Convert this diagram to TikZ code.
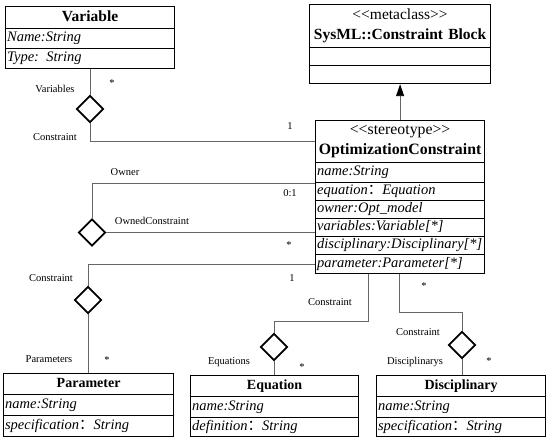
\documentclass[tikz,border=0pt]{standalone}
\usepackage{fontspec}
\setmainfont{Liberation Serif}
\newfontfamily\cjk{Noto Sans CJK SC}
\usetikzlibrary{shapes.geometric,arrows.meta}
\newcommand\fc{{\upshape\cjk ：}}
\newcommand\llt{<\kern0pt<}
\newcommand\ggt{>\kern0pt>}
\begin{document}
\begin{tikzpicture}[x=1pt,y=-1pt,
  box/.style={draw=black, line width=1.2pt, anchor=north west, inner xsep=1.5pt, inner ysep=0pt},
  ttl/.style={box, font=\fontsize{15.5}{20}\selectfont\bfseries, align=center},
  bttl/.style={box, font=\fontsize{14}{16}\selectfont\bfseries, align=center, text height=10pt, text depth=3pt},
  att/.style={box, font=\fontsize{14.5}{17}\selectfont\itshape, align=left, text height=10pt, text depth=3.5pt},
  conn/.style={draw=black!60, line width=0.9pt},
  agg/.style={diamond, draw=black, line width=1.8pt, fill=white, inner sep=0pt, minimum width=27pt, minimum height=27pt},
  lbl/.style={font=\fontsize{10.5}{12}\selectfont, inner sep=0pt},
]
\fill[white] (0,0) rectangle (550,443);
\useasboundingbox (0,0) rectangle (550,443);

% Variable
\node[ttl, text width=166pt, minimum height=22pt, text height=11pt, text depth=3pt] (vt) at (5,6) {Variable};
\node[att, text width=166pt, minimum height=20pt] (v1) at (5,28) {Name:String};
\node[att, text width=166pt, minimum height=20pt] (v2) at (5,48) {Type: String};

% SysML Constraint Block
\node[ttl, text width=178pt, minimum height=43pt] (st) at (309,4) {{\mdseries\llt metaclass\ggt}\\SysML::Constraint Block};
\node[att, text width=178pt, minimum height=18pt] (s1) at (309,47) {};
\node[att, text width=178pt, minimum height=18pt] (s2) at (309,65) {};

% OptimizationConstraint
\node[ttl, text width=166pt, minimum height=42pt, font=\fontsize{15.8}{20}\selectfont\bfseries] (ot) at (315,120) {{\mdseries\llt stereotype\ggt}\\OptimizationConstraint};
\node[att, text width=166pt, minimum height=20pt] (o1) at (315,162) {name:String};
\node[att, text width=166pt, minimum height=18pt] (o2) at (315,182) {equation\fc Equation};
\node[att, text width=166pt, minimum height=18pt] (o3) at (315,200) {owner:Opt\_model};
\node[att, text width=166pt, minimum height=18pt] (o4) at (315,218) {variables:Variable[*]};
\node[att, text width=166pt, minimum height=18pt] (o5) at (315,236) {disciplinary:Disciplinary[*]};
\node[att, text width=166pt, minimum height=19pt] (o6) at (315,254) {parameter:Parameter[*]};

% Parameter
\node[bttl, text width=167pt, minimum height=21pt] (pt) at (3,373) {Parameter};
\node[att, text width=167pt, minimum height=21pt] (p1) at (3,394) {name:String};
\node[att, text width=167pt, minimum height=21pt] (p2) at (3,415) {specification\fc String};

% Equation
\node[bttl, text width=165pt, minimum height=21pt] (et) at (190,375) {Equation};
\node[att, text width=165pt, minimum height=21pt] (e1) at (190,396) {name:String};
\node[att, text width=165pt, minimum height=19pt] (e2) at (190,417) {definition\fc String};

% Disciplinary
\node[bttl, text width=166pt, minimum height=21pt] (dt) at (376,375) {Disciplinary};
\node[att, text width=166pt, minimum height=21pt] (d1) at (376,396) {name:String};
\node[att, text width=166pt, minimum height=19pt] (d2) at (376,417) {specification\fc String};

% generalization
\draw[conn, -{Triangle[width=8pt,length=12pt,color=black]}] (ot.north) -- (s2.south);

% aggregations
\node[agg] (dv) at (90,109) {};
\draw[conn] (v2.south -| dv) -- (dv.north);
\draw[conn] (dv.south) |- (ot.west);

\node[agg] (do) at (92,232.5) {};
\draw[conn] (o1.south west) -| (do.north);
\draw[conn] (do.east) -- (do.east -| o4.west);

\node[agg] (dp) at (88,300) {};
\draw[conn] (o6.west) -| (dp.north);
\draw[conn] (dp.south) -- (dp.south |- pt.north);

\node[agg] (de) at (274,347) {};
\coordinate (ce) at ([xshift=53pt]o6.south west);
\draw[conn] (ce) -- ++(0,47) -| (de.north);
\draw[conn] (de.south) -- (de.south |- et.north);

\node[agg] (dd) at (462,345) {};
\coordinate (cd) at ([xshift=84pt]o6.south west);
\draw[conn] (cd) -- ++(0,38) -| (dd.north);
\draw[conn] (dd.south) -- (dd.south |- dt.north);

% labels
\node[lbl] (lVars) at (55,89) {Variables};
\node[lbl] (sVar) at (112,83) {*};
\node[lbl] (lC1) at (55,137) {Constraint};
\node[lbl] (n1) at (290,126) {1};
\node[lbl] (lOwner) at (125,172) {Owner};
\node[lbl] (n01) at (290,193) {0:1};
\node[lbl] (lOC) at (152,221) {OwnedConstraint};
\node[lbl] (sO) at (289,245) {*};
\node[lbl] (lC2) at (51,278) {Constraint};
\node[lbl] (n1b) at (292,278) {1};
\node[lbl] (lPar) at (49,359) {Parameters};
\node[lbl] (sP) at (107,360) {*};
\node[lbl] (lC3) at (330,302) {Constraint};
\node[lbl] (lEq) at (229,362) {Equations};
\node[lbl] (sE) at (302,367) {*};
\node[lbl] (sD1) at (424,286) {*};
\node[lbl] (lC4) at (418,332) {Constraint};
\node[lbl] (lDis) at (415,362) {Disciplinarys};
\node[lbl] (sD2) at (489,361) {*};
\end{tikzpicture}
\end{document}
